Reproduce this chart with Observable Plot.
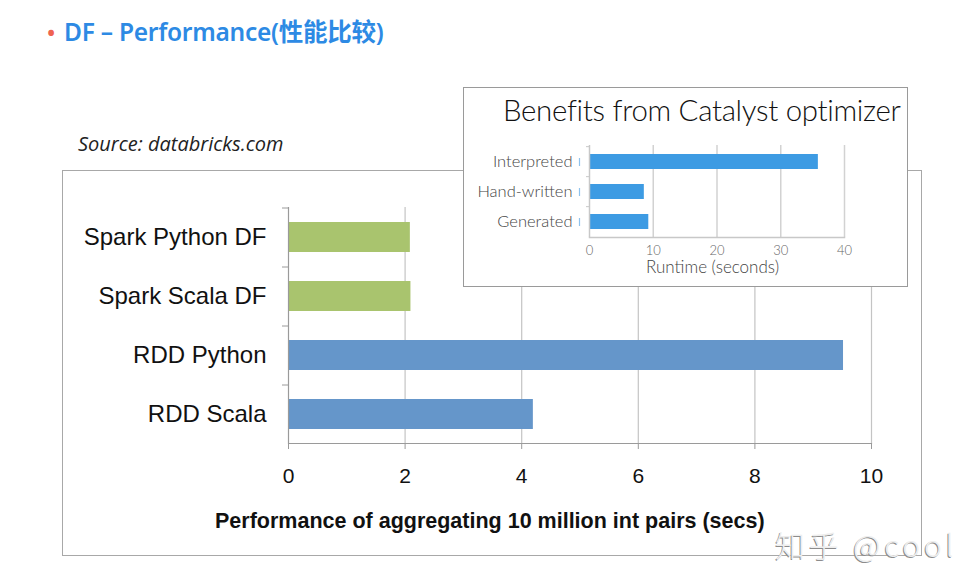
<!DOCTYPE html>
<html><head><meta charset="utf-8">
<script src="https://cdn.jsdelivr.net/npm/d3@7"></script>
<script src="https://cdn.jsdelivr.net/npm/@observablehq/plot@0.6"></script>
<style>
html,body{margin:0;padding:0;background:#fff}
#page{position:relative;width:978px;height:584px;overflow:hidden;background:#fff;font-family:"Liberation Sans",Arial,sans-serif}
#title{position:absolute;left:47px;top:13px;font-family:"Noto Sans","Noto Sans CJK SC",sans-serif;font-weight:600;font-size:24.5px;color:#2d8ae4;white-space:nowrap;letter-spacing:-0.25px}
#title .bullet{color:#ef6351;font-size:22px;margin-right:9px}
#title .cjk{font-family:"Noto Sans CJK SC",sans-serif;font-weight:700}
#source{position:absolute;left:78px;top:130px;font-family:"Open Sans",sans-serif;font-style:italic;font-size:20px;color:#222;white-space:nowrap}
#mainbox{position:absolute;left:62px;top:170px;width:858px;height:384px;border:1.5px solid #a8a8a8;background:#fff}
#mainplot{position:absolute;left:62px;top:170px}
#xtitle{position:absolute;left:215px;top:509px;font-weight:bold;font-size:21.5px;color:#111;white-space:nowrap}
#insetbox{position:absolute;left:463px;top:87px;width:443px;height:198px;border:1.5px solid #9a9a9a;background:#fff}
#insetplot{position:absolute;left:464px;top:88px}
#insettitle{position:absolute;left:503px;top:92px;font-family:Lato,sans-serif;font-weight:300;font-size:29.4px;color:#111;white-space:nowrap;letter-spacing:-0.3px}
#insetxtitle{position:absolute;left:646px;top:256px;font-family:Lato,sans-serif;font-weight:300;font-size:17px;color:#444;white-space:nowrap}
#watermark{position:absolute;left:775px;top:522px;font-family:"Noto Sans CJK SC",sans-serif;font-size:30px;letter-spacing:3.8px;color:#eeeeee;text-shadow:-1px 1px 0 #8c8c8c;white-space:nowrap;font-weight:300}
</style></head><body>
<div id="page">
  <div id="title"><span class="bullet">•</span>DF – Performance(<span class="cjk">性能比较</span>)</div>
  <div id="source">Source: databricks.com</div>
  <div id="mainbox"></div>
  <div id="mainplot"></div>
  <div id="xtitle">Performance of aggregating 10 million int pairs (secs)</div>
  <div id="insetbox"></div>
  <div id="insetplot"></div>
  <div id="insettitle">Benefits from Catalyst optimizer</div>
  <div id="insetxtitle">Runtime (seconds)</div>
  <div id="watermark">知乎 @cool</div>
</div>
<script>
// Main chart data
const mainCategories = ["Spark Python DF", "Spark Scala DF", "RDD Python", "RDD Scala"];
const mainValues = [2.09, 2.1, 9.52, 4.2];
const mainGroups = ["DF", "DF", "RDD", "RDD"];
const mainTicks = [0, 2, 4, 6, 8, 10];

// Inset chart data
const insetCategories = ["Interpreted", "Hand-written", "Generated"];
const insetValues = [35.9, 8.6, 9.3];
const insetTicks = [0, 10, 20, 30, 40];

const mainData = mainCategories.map((c, i) => ({cat: c, value: mainValues[i], group: mainGroups[i]}));
const insetData = insetCategories.map((c, i) => ({cat: c, value: insetValues[i]}));

const mainHeight = 386, mainMT = 37, mainMB = 113;
const mainStep = (mainHeight - mainMT - mainMB) / mainCategories.length;

const main = Plot.plot({
  width: 860, height: mainHeight,
  marginLeft: 226, marginRight: 51, marginTop: mainMT, marginBottom: mainMB,
  style: {fontFamily: "'Liberation Sans', Arial, sans-serif", background: "transparent", color: "#111", overflow: "visible"},
  x: {domain: [0, 10]},
  y: {domain: mainCategories, paddingInner: 0.5, paddingOuter: 0.25},
  color: {domain: ["DF", "RDD"], range: ["#a9c46e", "#6596ca"]},
  marks: [
    Plot.ruleX(mainTicks.slice(1), {stroke: "#c4c4c4", strokeWidth: 1.2}),
    Plot.barX(mainData, {x: "value", y: "cat", fill: "group"}),
    Plot.ruleX([0], {stroke: "#9a9a9a", strokeWidth: 1.2}),
    Plot.frame({anchor: "bottom", stroke: "#9a9a9a", strokeWidth: 1.2}),
    Plot.axisY({tickSize: 6, dy: -mainStep / 2, tickFormat: () => "", stroke: "#9a9a9a", label: null}),
    Plot.axisY({tickSize: 0, tickPadding: 22, fontSize: 24, label: null}),
    Plot.axisX({ticks: mainTicks, tickSize: 6, tickPadding: 19, fontSize: 21, stroke: "#9a9a9a", label: null})
  ]
});
document.getElementById("mainplot").append(main);

const insetHeight = 198, insetMT = 57, insetMB = 49;
const insetStep = (insetHeight - insetMT - insetMB) / insetCategories.length;

const inset = Plot.plot({
  width: 443, height: insetHeight,
  marginLeft: 125, marginRight: 63, marginTop: insetMT, marginBottom: insetMB,
  style: {fontFamily: "Lato, sans-serif", fontWeight: 300, background: "transparent", color: "#444", overflow: "visible"},
  x: {domain: [0, 40]},
  y: {domain: insetCategories, paddingInner: 0.5, paddingOuter: 0.25},
  marks: [
    Plot.ruleX(insetTicks.slice(1), {stroke: "#d2d2d2", strokeWidth: 1.5}),
    Plot.barX(insetData, {x: "value", y: "cat", fill: "#3d9be3"}),
    Plot.ruleX([0], {stroke: "#c8c8c8", strokeWidth: 1.5}),
    Plot.frame({anchor: "bottom", stroke: "#c8c8c8", strokeWidth: 1.5}),
    Plot.axisY({tickSize: 3, dy: -insetStep / 2, tickFormat: () => "", stroke: "#c8c8c8", label: null}),
    Plot.tickX(insetData, {x: 0, y: "cat", dx: -10, insetTop: 4, insetBottom: 3, stroke: "#8fc3ee", strokeWidth: 1.2}),
    Plot.axisY({tickSize: 0, tickPadding: 17, fontSize: 16.5, fill: "#444", label: null}),
    Plot.axisX({ticks: insetTicks, tickSize: 0, tickPadding: 8, fontSize: 13, fill: "#666", label: null})
  ]
});
document.getElementById("insetplot").append(inset);
</script>
</body></html>
